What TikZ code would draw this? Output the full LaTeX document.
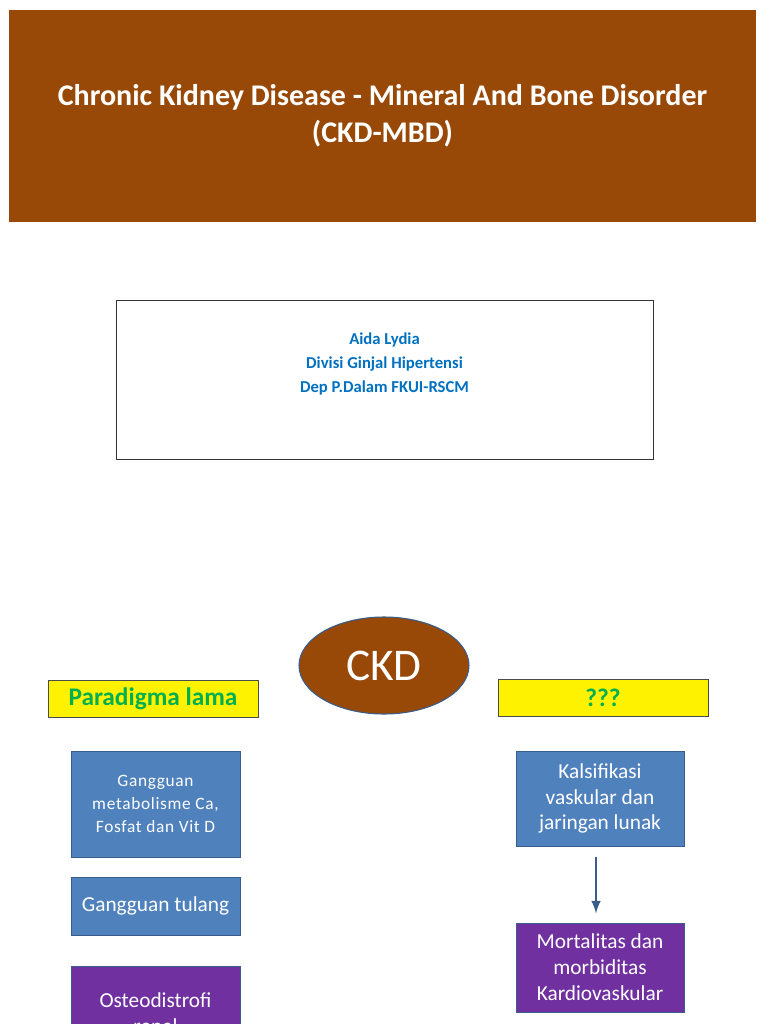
\documentclass[tikz,border=0pt]{standalone}
\usepackage{fontspec}
\setmainfont{Carlito}
\usetikzlibrary{shapes.geometric}
\definecolor{ckdbrown}{HTML}{984807}
\definecolor{authblue}{HTML}{0070C0}
\definecolor{tagreen}{HTML}{00B050}
\definecolor{boxblue}{HTML}{4F81BD}
\definecolor{boxedge}{HTML}{385D8A}
\definecolor{boxpurple}{HTML}{7030A0}

\begin{document}
\begin{tikzpicture}[
  x=0.75pt, y=-0.75pt,
  tagbox/.style={draw=black!70, fill=yellow, minimum width=157.5pt, minimum height=27.75pt,
    text=tagreen, font=\fontsize{19}{21}\selectfont\bfseries},
  bluebox/.style={draw=boxedge, fill=boxblue, minimum width=126.75pt, text=white, align=center},
  purplebox/.style={bluebox, fill=boxpurple},
  arrow/.style={-latex, line width=2.2pt, boxedge}
]
  \useasboundingbox (0,0) rectangle (768,1024);
  \clip (0,0) rectangle (768,1024);

  % title bar
  \node[fill=ckdbrown, minimum width=560.25pt, minimum height=159pt] (bar) at (382.5,116) {};
  \node[text=white, align=center, font=\fontsize{22.5}{28}\selectfont\bfseries] (title) at (382.5,115.5)
    {Chronic Kidney Disease - Mineral And Bone Disorder\\(CKD-MBD)};

  % author box
  \node[draw=black!80, minimum width=402.75pt, minimum height=119.25pt] (authbox) at (384.5,379.5) {};
  \node[text=authblue, align=center, font=\fontsize{12.5}{18}\selectfont\bfseries] (author) at (384.5,364)
    {Aida Lydia\\Divisi Ginjal Hipertensi\\Dep P.Dalam FKUI-RSCM};

  % CKD
  \node[ellipse, draw=boxedge, thick, fill=ckdbrown, minimum width=127.5pt, minimum height=72.75pt,
    text=white, font=\fontsize{34}{38}\selectfont] (ckd) at (384,665.5) {CKD};

  % headings
  \node[tagbox] (lama) at (153,698.5) {Paradigma lama};
  \node[tagbox] (baru) at (603,697.5) {???};

  % old paradigm
  \node[bluebox, minimum height=79.5pt, font=\fontsize{13}{17.5}\selectfont\addfontfeatures{LetterSpace=4}] (metab) at (155.5,804)
    {Gangguan\\metabolisme Ca,\\Fosfat dan Vit D};
  \node[bluebox, minimum height=43.5pt, font=\fontsize{16}{19}\selectfont] (tulang) at (155.5,906)
    {Gangguan tulang};
  \node[purplebox, minimum height=70.5pt, font=\fontsize{16}{19}\selectfont] (osteo) at (155.5,1013)
    {Osteodistrofi\\renal};

  % new paradigm
  \node[bluebox, minimum width=126pt, minimum height=71.25pt, font=\fontsize{16}{19}\selectfont] (kalsi) at (600,798.5)
    {Kalsifikasi\\vaskular dan\\jaringan lunak};
  \node[purplebox, minimum width=126pt, minimum height=66.75pt, font=\fontsize{16}{19.5}\selectfont] (mortal) at (600,967.5)
    {Mortalitas dan\\morbiditas\\Kardiovaskular};

  % arrow
  \draw[arrow, shorten <=8pt, shorten >=7pt] ([xshift=-3pt]kalsi.south) -- ([xshift=-3pt]mortal.north);
\end{tikzpicture}
\end{document}
